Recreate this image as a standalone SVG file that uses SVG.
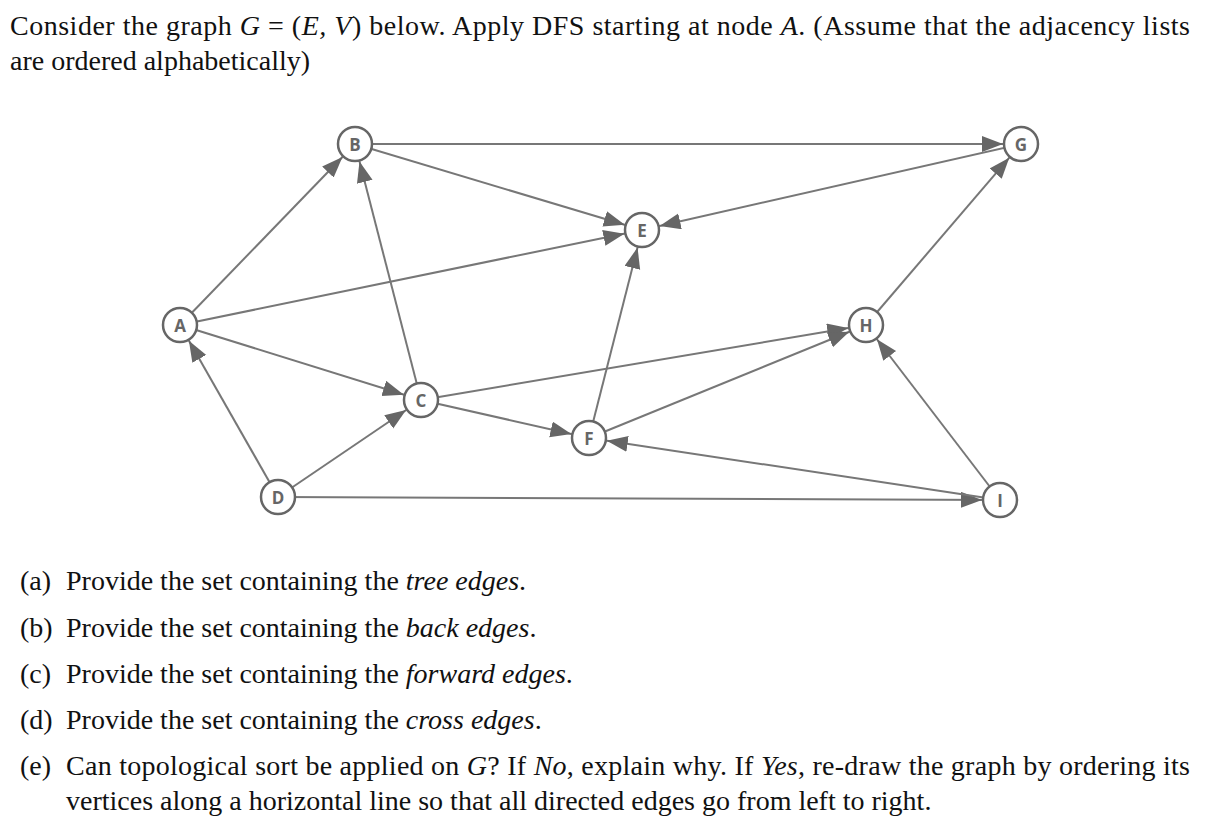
<svg xmlns="http://www.w3.org/2000/svg" width="1211" height="839" viewBox="0 0 1211 839">
<style>
.t{font-family:"Liberation Serif",serif;font-size:28px;fill:#111}
.n circle{fill:#fff;stroke:#666;stroke-width:2.5}
.n text{font-family:"Open Sans","Liberation Sans",sans-serif;font-size:17px;font-weight:bold;fill:#666;text-anchor:middle;dominant-baseline:central}
#edges line{stroke:#777;stroke-width:2;marker-end:url(#ah)}
</style>
<defs><marker id="ah" markerUnits="userSpaceOnUse" markerWidth="42" markerHeight="20" refX="39" refY="8" orient="auto"><path d="M0,0 L21,8 L0,16 Z" fill="#666"/></marker></defs>
<rect width="1211" height="839" fill="#fff"/>
<text class="t" x="10" y="35" textLength="1180" lengthAdjust="spacing">Consider the graph <tspan font-style="italic">G</tspan> = (<tspan font-style="italic">E, V</tspan>) below. Apply DFS starting at node <tspan font-style="italic">A</tspan>. (Assume that the adjacency lists</text>
<text class="t" x="10" y="70">are ordered alphabetically)</text>
<g id="edges">
<line x1="355" y1="144" x2="1021" y2="144"/>
<line x1="355" y1="144" x2="642" y2="230"/>
<line x1="1021" y1="144" x2="642" y2="230"/>
<line x1="180" y1="325" x2="355" y2="144"/>
<line x1="180" y1="325" x2="642" y2="230"/>
<line x1="180" y1="325" x2="421" y2="400"/>
<line x1="421" y1="400" x2="355" y2="144"/>
<line x1="421" y1="400" x2="866" y2="325"/>
<line x1="421" y1="400" x2="589" y2="438"/>
<line x1="278" y1="497" x2="180" y2="325"/>
<line x1="278" y1="497" x2="421" y2="400"/>
<line x1="278" y1="497" x2="1000" y2="500"/>
<line x1="589" y1="438" x2="642" y2="230"/>
<line x1="589" y1="438" x2="866" y2="325"/>
<line x1="1000" y1="500" x2="589" y2="438"/>
<line x1="1000" y1="500" x2="866" y2="325"/>
<line x1="866" y1="325" x2="1021" y2="144"/>
</g>
<g id="B" class="n"><circle cx="355" cy="144" r="17"/><text x="355" y="144">B</text></g>
<g id="G" class="n"><circle cx="1021" cy="144" r="17"/><text x="1021" y="144">G</text></g>
<g id="E" class="n"><circle cx="642" cy="230" r="17"/><text x="642" y="230">E</text></g>
<g id="A" class="n"><circle cx="180" cy="325" r="17"/><text x="180" y="325">A</text></g>
<g id="H" class="n"><circle cx="866" cy="325" r="17"/><text x="866" y="325">H</text></g>
<g id="C" class="n"><circle cx="421" cy="400" r="17"/><text x="421" y="400">C</text></g>
<g id="F" class="n"><circle cx="589" cy="438" r="17"/><text x="589" y="438">F</text></g>
<g id="D" class="n"><circle cx="278" cy="497" r="17"/><text x="278" y="497">D</text></g>
<g id="I" class="n"><circle cx="1000" cy="500" r="17"/><text x="1000" y="500">I</text></g>
<text class="t" x="20" y="590">(a)<tspan x="66">Provide the set containing the </tspan><tspan font-style="italic">tree edges</tspan>.</text>
<text class="t" x="20" y="637">(b)<tspan x="66">Provide the set containing the </tspan><tspan font-style="italic">back edges</tspan>.</text>
<text class="t" x="20" y="683">(c)<tspan x="66">Provide the set containing the </tspan><tspan font-style="italic">forward edges</tspan>.</text>
<text class="t" x="20" y="729">(d)<tspan x="66">Provide the set containing the </tspan><tspan font-style="italic">cross edges</tspan>.</text>
<text class="t" x="20" y="775">(e)<tspan x="66" textLength="1124" lengthAdjust="spacing">Can topological sort be applied on <tspan font-style="italic">G</tspan>? If <tspan font-style="italic">No</tspan>, explain why. If <tspan font-style="italic">Yes</tspan>, re-draw the graph by ordering its</tspan></text>
<text class="t" x="66" y="810">vertices along a horizontal line so that all directed edges go from left to right.</text>
</svg>
